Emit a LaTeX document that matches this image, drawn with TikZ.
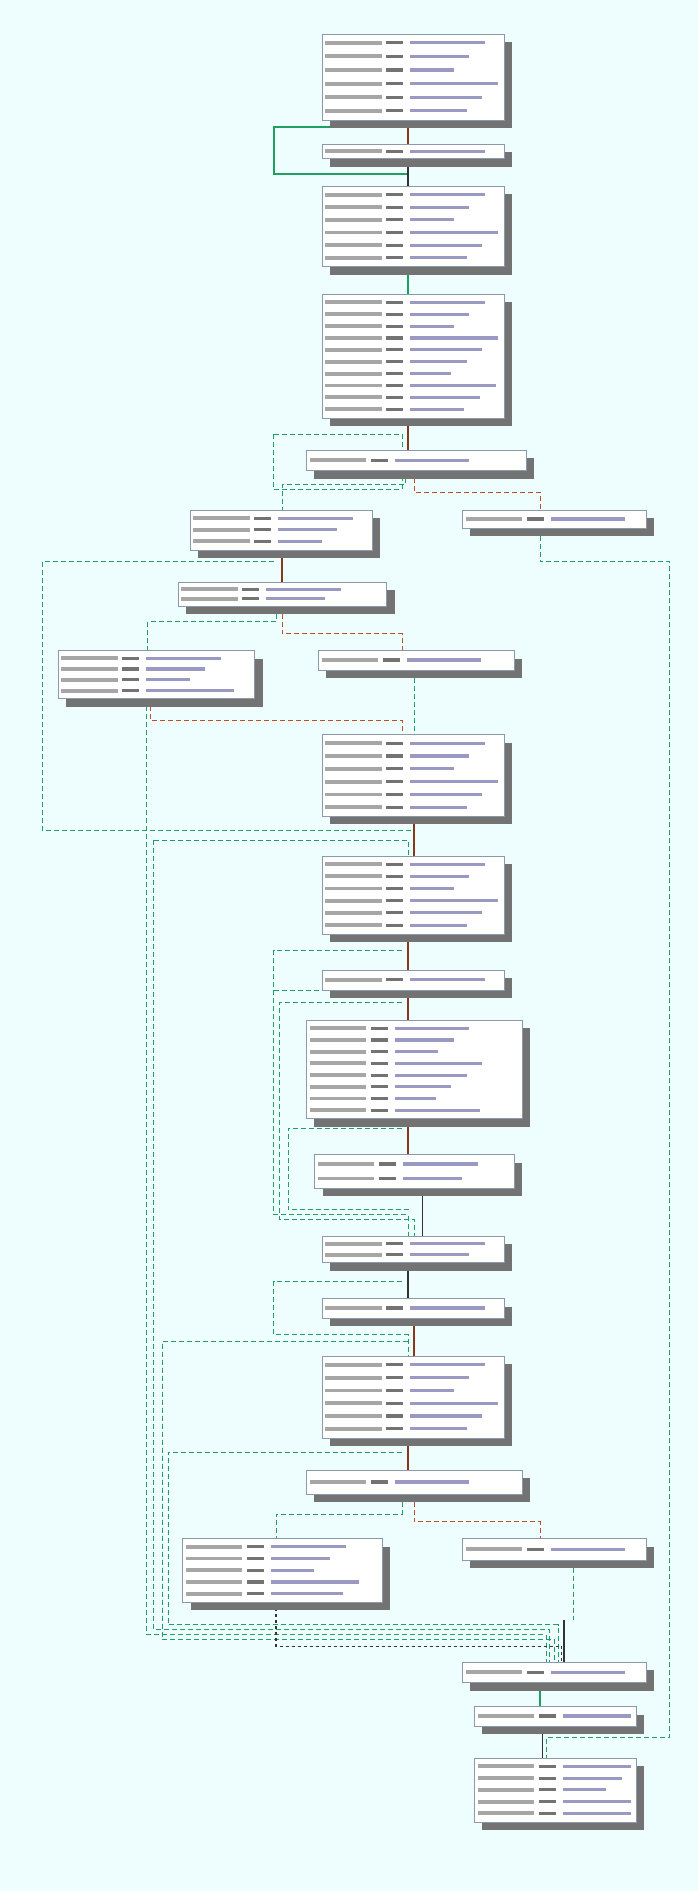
\documentclass[tikz,border=0pt]{standalone}
\usetikzlibrary{calc}
\definecolor{bg}{HTML}{EEFDFD}
\definecolor{edg}{HTML}{1FA060}
\definecolor{red}{HTML}{C0502A}
\definecolor{frm}{HTML}{8A9AAA}
\tikzset{
  box/.style={draw=frm,fill=white,inner sep=0pt,line width=0.6pt},
  shd/.style={fill=black!55,draw=none},
  tru/.style={draw=edg,dashed,line width=1pt,dash pattern=on 5pt off 3pt},
  fls/.style={draw=red,dashed,line width=1pt,dash pattern=on 5pt off 3pt},
  unc/.style={draw=black!80,line width=1.2pt},
  brw/.style={draw=red!70!black,line width=1.4pt},
}
\newcommand{\blk}[6]{%
  \fill[shd] (#2+7,#3+7) rectangle (#4+7,#5+7);
  \node[box,anchor=north west,minimum width={(#4-#2)*1.2pt},minimum height={(#5-#3)*1.2pt}] (#1) at (#2,#3) {};
  \pgfmathsetmacro{\hh}{(#5-#3-4)/#6}
  \foreach \i in {1,...,#6}{
    \pgfmathsetmacro{\yy}{#3+2+(\i-0.5)*\hh}
    \pgfmathsetmacro{\ww}{mod(\i*37,50)+25}
    \fill[black!35] (#2+3,\yy-1.6) rectangle (#2+50,\yy+1.6);
    \fill[black!55] (#2+54,\yy-1.3) rectangle (#2+68,\yy+1.3);
    \fill[blue!40!black!40] (#2+74,\yy-1.3) rectangle ({min(#2+74+\ww,#4-4)},\yy+1.3);
  }}
\begin{document}
\begin{tikzpicture}[x=1.2pt,y=-1.2pt]
\fill[bg] (0,0) rectangle (581.67,1575.8);
\useasboundingbox (0,0) rectangle (581.67,1575.8);
% edges first
\draw[edg,line width=2.2pt] (340,136) -- (340,145) -- (228,145) -- (228,106) -- (340,106);
\draw[brw] (340,100) -- (340,120);
\draw[unc] (340,132) -- (340,155);
\draw[unc,draw=edg] (340,222) -- (340,245);
\draw[brw] (340,348) -- (340,375);
\draw[tru] (228,362) -- (335,362) -- (335,375);
\draw[tru] (228,362) -- (228,408) -- (335,408) -- (335,392);
\draw[tru] (338,392) -- (338,404) -- (235,404) -- (235,425);
\draw[fls] (345,392) -- (345,410) -- (450,410) -- (450,425);
\draw[brw] (235,458) -- (235,485);
\draw[tru] (228,468) -- (35,468) -- (35,692) -- (345,692) -- (345,713);
\draw[tru] (450,440) -- (450,468) -- (558,468) -- (558,1448) -- (455,1448) -- (455,1465);
\draw[tru] (230,505) -- (230,518) -- (123,518) -- (123,542);
\draw[fls] (235,505) -- (235,528) -- (335,528) -- (335,542);
\draw[fls] (125,582) -- (125,600) -- (335,600) -- (335,612);
\draw[tru] (345,558) -- (345,612);
\draw[brw] (345,680) -- (345,713);
\draw[tru] (122,582) -- (122,1362) -- (455,1362) -- (455,1385);
\draw[tru] (128,700) -- (128,1358) -- (458,1358) -- (458,1385);
\draw[tru] (128,700) -- (340,700) -- (340,713);
\draw[brw] (340,778) -- (340,808);
\draw[tru] (335,792) -- (228,792) -- (228,1012) -- (340,1012) -- (340,1030);
\draw[tru] (228,825) -- (335,825) -- (335,808);
\draw[brw] (340,825) -- (340,850);
\draw[tru] (335,835) -- (233,835) -- (233,1016) -- (345,1016) -- (345,1030);
\draw[tru] (335,940) -- (240,940) -- (240,1008) -- (343,1008);
\draw[brw] (340,932) -- (340,962);
\draw[unc] (352,990) -- (352,1030);
\draw[unc] (340,1052) -- (340,1082);
\draw[tru] (335,1068) -- (228,1068) -- (228,1112) -- (340,1112) -- (340,1130);
\draw[brw] (345,1098) -- (345,1130);
\draw[tru] (340,1118) -- (135,1118) -- (135,1366) -- (462,1366) -- (462,1385);
\draw[brw] (340,1198) -- (340,1225);
\draw[tru] (335,1210) -- (140,1210) -- (140,1354) -- (465,1354) -- (465,1385);
\draw[tru] (335,1245) -- (335,1262) -- (230,1262) -- (230,1282);
\draw[fls] (345,1245) -- (345,1268) -- (450,1268) -- (450,1282);
\draw[unc,dashed] (230,1335) -- (230,1372) -- (468,1372) -- (468,1385);
\draw[unc] (470,1350) -- (470,1385);
\draw[tru] (478,1300) -- (478,1350);
\draw[unc,draw=edg] (450,1402) -- (450,1422);
\draw[unc] (452,1438) -- (452,1465);
% blocks
\blk{B1}{268}{28}{420}{100}{6}
\blk{B2}{268}{120}{420}{132}{1}
\blk{B3}{268}{155}{420}{222}{6}
\blk{B4}{268}{245}{420}{348}{10}
\blk{B5}{255}{375}{438}{392}{1}
\blk{B6}{158}{425}{310}{458}{3}
\blk{B7}{385}{425}{538}{440}{1}
\blk{B8}{148}{485}{322}{505}{2}
\blk{B9}{48}{542}{212}{582}{4}
\blk{B10}{265}{542}{428}{558}{1}
\blk{B11}{268}{612}{420}{680}{6}
\blk{B12}{268}{713}{420}{778}{6}
\blk{B13}{268}{808}{420}{825}{1}
\blk{B14}{255}{850}{435}{932}{8}
\blk{B15}{262}{962}{428}{990}{2}
\blk{B16}{268}{1030}{420}{1052}{2}
\blk{B17}{268}{1082}{420}{1098}{1}
\blk{B18}{268}{1130}{420}{1198}{6}
\blk{B19}{255}{1225}{435}{1245}{1}
\blk{B20}{152}{1282}{318}{1335}{5}
\blk{B21}{385}{1282}{538}{1300}{1}
\blk{B22}{385}{1385}{538}{1402}{1}
\blk{B23}{395}{1422}{530}{1438}{1}
\blk{B24}{395}{1465}{530}{1518}{5}
\end{tikzpicture}
\end{document}
